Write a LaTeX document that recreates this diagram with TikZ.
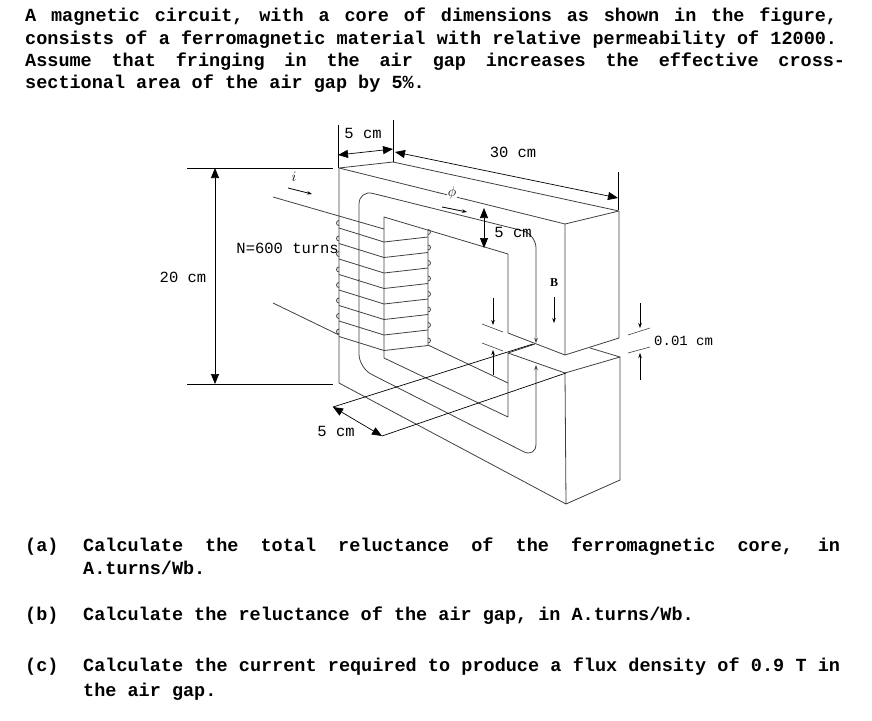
\documentclass[tikz,border=0pt]{standalone}
\usepackage{fontspec}
\setmainfont{Liberation Serif}
\newfontfamily\tw{Liberation Mono}
\usetikzlibrary{arrows.meta}
\begin{document}
\begin{tikzpicture}[x=1pt,y=-1pt,
  core/.style={draw=black!75,line width=0.8pt,line join=round},
  dim/.style={draw=black,line width=0.7pt},
  big/.style={{Triangle[length=10pt,width=8pt]}-{Triangle[length=10pt,width=8pt]}},
  small/.style={-{Stealth[length=5pt,width=3.5pt]}},
  txtline/.style={anchor=base west,inner sep=0pt,font=\tw\bfseries\fontsize{18.5}{22}\selectfont},
  lab/.style={inner sep=1pt,font=\tw\fontsize{15.5}{17}\selectfont}]
\useasboundingbox (0,0) rectangle (872,720);
\newcommand\jl[2]{\hbox to #1{\spaceskip=11.1pt plus 1fill\relax #2}}
% ---- text ----
\node[txtline] (t1) at (25,21) {\jl{812pt}{A magnetic circuit, with a core of dimensions as shown in the figure,}};
\node[txtline] (t2) at (25,44) {\jl{812pt}{consists of a ferromagnetic material with relative permeability of 12000.}};
\node[txtline] (t3) at (25,66) {\jl{820pt}{Assume that fringing in the air gap increases the effective cross-}};
\node[txtline] (t4) at (25,88) {sectional area of the air gap by 5\%.};
\node[txtline] (qa) at (25,551) {(a)};
\node[txtline] (qa1) at (83,551) {\jl{757pt}{Calculate the total reluctance of the ferromagnetic core, in}};
\node[txtline] (qa2) at (83,574) {A.turns/Wb.};
\node[txtline] (qb) at (25,620) {(b)};
\node[txtline] (qb1) at (83,620) {Calculate the reluctance of the air gap, in A.turns/Wb.};
\node[txtline] (qc) at (25,671) {(c)};
\node[txtline] (qc1) at (83,671) {\jl{757pt}{Calculate the current required to produce a flux density of 0.9 T in}};
\node[txtline] (qc2) at (83,696) {the air gap.};
% ---- core outline ----
\draw[core] (339,168) -- (393,162) -- (619,211) -- (565,224) -- cycle;
\draw[core] (339,168) -- (339,383) -- (566,504) -- (620,480) -- (620,357) -- (565,373) -- (566,504);
\draw[core] (619,211) -- (619,338) -- (565,355) -- (565,224);
% window
\draw[core] (508,333) -- (508,254) -- (384,217) -- (384,358) -- (508,417) -- (508,353) -- (565,373);
\draw[core] (508,333) -- (565,355);
\draw[core] (508,353) -- (535,344);
\draw[core] (590,348) -- (620,357);
\draw[core] (428,230) -- (428,345) -- (508,383);
% flux path
\draw[core,small,rounded corners=14pt] (359,280) -- (359,190) -- (536,234) -- (536,343);
\draw[core,small,rounded corners=14pt] (359,279) -- (359,368) -- (536,458) -- (536,365);
% coil
\draw[core] (273,197) -- (384,229);
\draw[core] (273,303) -- (339,335);
\foreach \k in {0,...,7}{
  \pgfmathsetmacro\yl{228+15.5*\k}
  \draw[core] (339,\yl) -- (384,\yl+14) -- (428,\yl+9);
  \draw[core] (339,\yl-2.5) arc[start angle=90,end angle=270,radius=2.5];
  \draw[core] (428,\yl+6.5) arc[start angle=90,end angle=-90,radius=2.5];
}
% ---- labels and dimensions ----
\node[lab,fill=white,inner sep=0.5pt] (phi) at (452,193) {$\phi$};
\draw[small,line width=0.8pt] (442,207) -- (467,212);
\node[lab] (il) at (294,177) {$i$};
\draw[small,line width=0.8pt] (288,188) -- (312,194);
\node[lab,anchor=east] (nt) at (340,248) {N=600 turns};
% 5 cm top
\draw[dim] (338,125) -- (338,168);
\draw[dim] (393,120) -- (393,162);
\draw[dim,big] (338,155) -- (393,149);
\node[lab] (d5a) at (363,133) {5 cm};
% 30 cm
\draw[dim] (618,172) -- (618,210);
\draw[dim,big] (395,152) -- (618,198);
\node[lab] (d30) at (513,152) {30 cm};
% 20 cm
\draw[dim] (187,168) -- (333,168);
\draw[dim] (187,384) -- (333,384);
\draw[dim,big] (215,168) -- (215,384);
\node[lab] (d20) at (183,277) {20 cm};
% 5 cm yoke
\draw[dim,big] (484,208) -- (484,248);
\node[lab] (d5b) at (513,232) {5 cm};
% 5 cm bottom
\draw[dim] (333,407) -- (533,344);
\draw[dim] (382,436) -- (566,373);
\draw[dim,big] (333,407) -- (382,436);
\node[lab] (d5c) at (336,431) {5 cm};
% B
\node[inner sep=0pt,font=\bfseries\fontsize{12}{14}\selectfont] (bl) at (554,283) {B};
\draw[small,line width=0.7pt] (554,297) -- (554,323);
% gap marks inside
\draw[small,line width=0.6pt] (493,298) -- (493,325);
\draw[core,line width=0.6pt] (482,324) -- (503,332);
\draw[core,line width=0.6pt] (482,343) -- (503,351);
\draw[small,line width=0.6pt] (493,375) -- (493,350);
% gap marks outside
\draw[small,line width=0.6pt] (640,303) -- (640,328);
\draw[core,line width=0.6pt] (628,335) -- (650,328);
\draw[core,line width=0.6pt] (628,353) -- (650,347);
\draw[small,line width=0.6pt] (640,380) -- (640,353);
\node[lab,anchor=west,font=\tw\fontsize{14}{16}\selectfont] (gap) at (653,341) {0.01 cm};
\end{tikzpicture}
\end{document}
